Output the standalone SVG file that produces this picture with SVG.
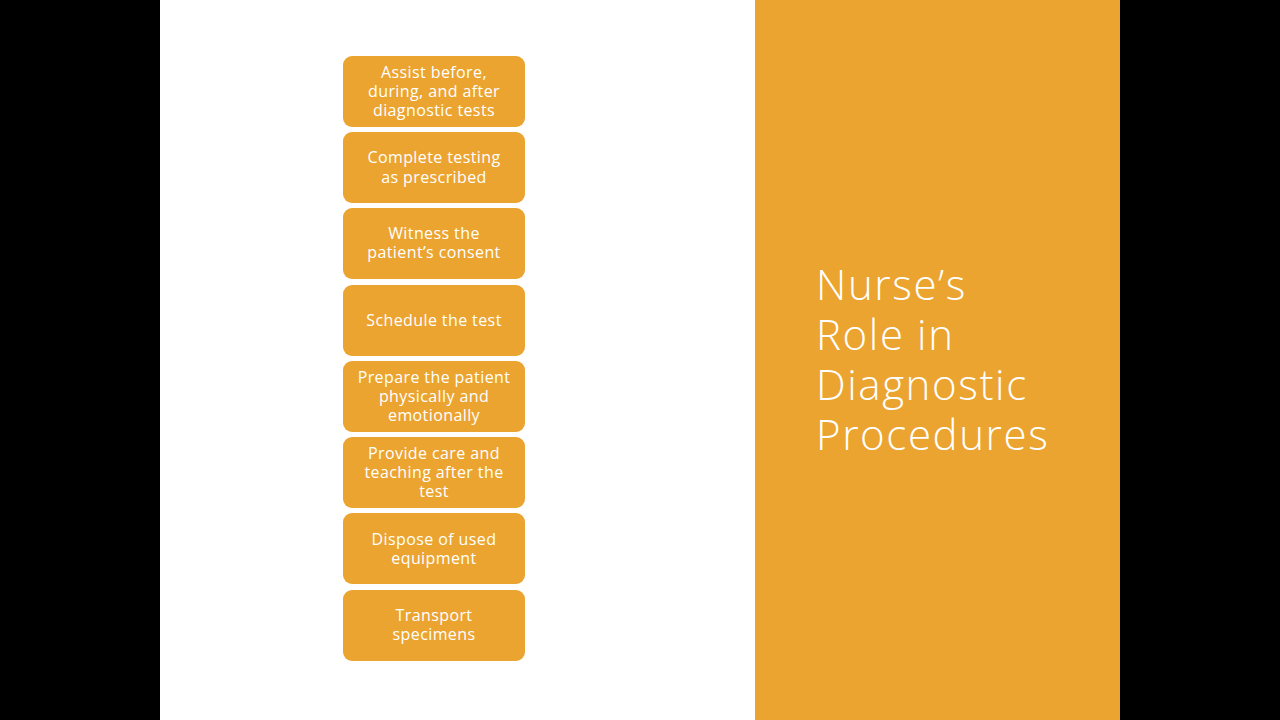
<svg xmlns="http://www.w3.org/2000/svg" width="1280" height="720" viewBox="0 0 1280 720">
<style>
.box{fill:#EBA42F}
.t{font-family:"Open Sans","Liberation Sans",sans-serif;font-size:16px;fill:#fff;text-anchor:middle;letter-spacing:0.4px}
.title{font-family:"Open Sans","Liberation Sans",sans-serif;font-size:42px;fill:#fff;font-weight:300;letter-spacing:1.6px}
</style>
<rect x="0" y="0" width="1280" height="720" fill="#000"/>
<rect x="160" y="0" width="595" height="720" fill="#fff"/>
<rect x="755" y="0" width="365" height="720" fill="#EBA42F"/>
<g id="title"><text class="title" x="816"><tspan x="816" y="300">Nurse’s</tspan><tspan x="816" y="350">Role in</tspan><tspan x="816" y="400">Diagnostic</tspan><tspan x="816" y="450">Procedures</tspan></text></g>
<g id="n1"><rect class="box" x="343" y="56" width="182" height="71" rx="9"/><text class="t"><tspan x="434" y="78">Assist before,</tspan><tspan x="434" y="97">during, and after</tspan><tspan x="434" y="116">diagnostic tests</tspan></text></g>
<g id="n2"><rect class="box" x="343" y="132" width="182" height="71" rx="9"/><text class="t"><tspan x="434" y="163">Complete testing</tspan><tspan x="434" y="183">as prescribed</tspan></text></g>
<g id="n3"><rect class="box" x="343" y="208" width="182" height="71" rx="9"/><text class="t"><tspan x="434" y="239">Witness the</tspan><tspan x="434" y="258">patient’s consent</tspan></text></g>
<g id="n4"><rect class="box" x="343" y="285" width="182" height="71" rx="9"/><text class="t"><tspan x="434" y="326">Schedule the test</tspan></text></g>
<g id="n5"><rect class="box" x="343" y="361" width="182" height="71" rx="9"/><text class="t"><tspan x="434" y="383">Prepare the patient</tspan><tspan x="434" y="402">physically and</tspan><tspan x="434" y="421">emotionally</tspan></text></g>
<g id="n6"><rect class="box" x="343" y="437" width="182" height="71" rx="9"/><text class="t"><tspan x="434" y="459">Provide care and</tspan><tspan x="434" y="478">teaching after the</tspan><tspan x="434" y="497">test</tspan></text></g>
<g id="n7"><rect class="box" x="343" y="513" width="182" height="71" rx="9"/><text class="t"><tspan x="434" y="545">Dispose of used</tspan><tspan x="434" y="564">equipment</tspan></text></g>
<g id="n8"><rect class="box" x="343" y="590" width="182" height="71" rx="9"/><text class="t"><tspan x="434" y="621">Transport</tspan><tspan x="434" y="640">specimens</tspan></text></g>
<g id="connectors"/>
</svg>
